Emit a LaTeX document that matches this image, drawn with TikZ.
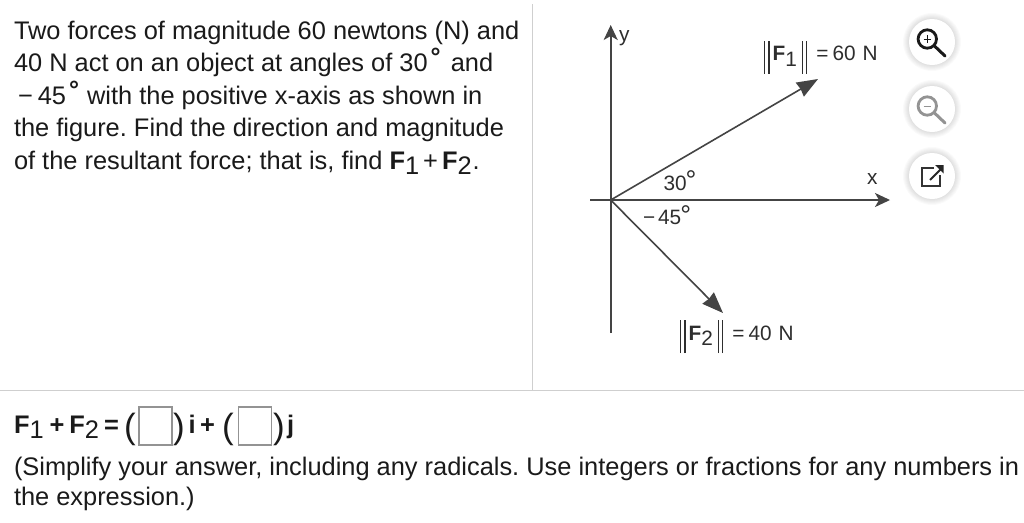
\documentclass[tikz,border=0pt]{standalone}
\usepackage{fontspec}
\setmainfont{Liberation Sans}
\usetikzlibrary{arrows.meta}
\frenchspacing
\definecolor{ink}{HTML}{1A1A1A}
\definecolor{axisc}{HTML}{444444}
\definecolor{lblc}{HTML}{2E2E2E}
\definecolor{sepc}{HTML}{CFCFCF}
\newcommand{\fs}[1]{\fontsize{#1pt}{#1pt}\selectfont}
\newcommand{\dg}{\hspace{3pt}\raisebox{6pt}{\fs{25}\bfseries°}}
\newcommand{\dgs}{\hspace{-1pt}\raisebox{0.5pt}{\fs{27}°}}
\newcommand{\nrm}{\rule[-13pt]{1.3pt}{33pt}\hspace{3pt}\rule[-13pt]{1.3pt}{33pt}}
\newcommand{\sbb}[2]{\textbf{#1}\raisebox{-5.5pt}{#2}}
\tikzset{
  x=1pt,y=-1pt,
  txt/.style={anchor=base west,inner sep=0pt,outer sep=0pt,text=ink,font=\fs{25.4}},
  lbl/.style={anchor=base west,inner sep=0pt,outer sep=0pt,text=lblc,font=\fs{20.8}},
  ax/.style={draw=axisc,line width=1.6pt,-{Stealth[length=15pt,width=14pt,inset=4pt]}},
  vec/.style={draw=axisc,line width=1.6pt,-{Stealth[length=21pt,width=16pt,inset=1pt]}},
  sep/.style={draw=sepc,line width=1pt},
  ansbox/.style={draw=gray!85,line width=1.3pt},
  iconbase/.style={circle,fill=white,minimum size=46pt,inner sep=0pt},
  shadowc/.style={circle,fill=black,fill opacity=.02,inner sep=0pt},
}
\begin{document}
\begin{tikzpicture}
\useasboundingbox (0,0) rectangle (1024,522);
\fill[white] (0,0) rectangle (1024,522);
% separators
\coordinate (sepA) at (532,4); \coordinate (sepB) at (532,390);
\coordinate (sepL) at (0,390); \coordinate (sepR) at (1024,390);
\draw[sep] (sepA) -- (sepB);
\draw[sep] (sepL) -- (sepR);
% question text
\node[txt] (q1) at (14,39) {Two forces of magnitude 60 newtons (N) and};
\node[txt] (q2) at (14,71.5) {40 N act on an object at angles of 30\dg\hspace{3pt} and};
\node[txt] (q3) at (18,104) {\textminus\hspace{5pt}45\dg\hspace{1pt} with the positive x-axis as shown in};
\node[txt] (q4) at (14,136.5) {the figure. Find the direction and magnitude};
\node[txt] (q5) at (14,169) {of the resultant force; that is, find \sbb{F}{1}\hspace{4pt}+\hspace{4pt}\sbb{F}{2}\hspace{1pt}.};
% axes and vectors
\coordinate (O) at (610.7,200);
\coordinate (yT) at (610.7,25); \coordinate (yB) at (610.7,333);
\coordinate (xL) at (590,200); \coordinate (xR) at (890,200);
\coordinate (F1) at (818,79); \coordinate (F2) at (723,313);
\draw[ax] (yB) -- (yT);
\draw[ax] (xL) -- (xR);
\draw[vec] (O) -- (F1);
\draw[vec] (O) -- (F2);
\node[lbl] (ly) at (619,41) {y};
\node[lbl] (lx) at (867,184) {x};
\node[lbl] (a30) at (663.5,190) {30\dgs};
\node[lbl] (a45) at (643,224.5) {\textminus\hspace{3pt}45\dgs};
\node[lbl] (n1) at (764,60.5) {\nrm\hspace{3pt}\sbb{F}{1}\hspace{5pt}\nrm\hspace{9pt}=\hspace{4pt}60 \hspace{1pt}N};
\node[lbl] (n2) at (680,340) {\nrm\hspace{3pt}\sbb{F}{2}\hspace{5pt}\nrm\hspace{9pt}=\hspace{4pt}40 \hspace{1pt}N};
% icon buttons
\foreach \n/\cy in {a/42,b/109,c/176}{
  \foreach \r in {58,56,54,52,50,48}{
    \node[shadowc,minimum size=\r pt] at (932,\cy) {};
  }
  \node[iconbase] (btn\n) at (932,\cy) {};
}
\draw[black!90,line width=2.8pt] (927.3,39) circle (9.2);
\draw[black!90,line width=3pt,line cap=round] (934.5,46) -- (945,56);
\draw[black!90,line width=1pt] (923.5,39) -- (931,39) (927.3,35.3) -- (927.3,42.8);
\draw[gray!85,line width=2.8pt] (927.3,106) circle (9.2);
\draw[gray!85,line width=3pt,line cap=round] (934.5,113) -- (945,123);
\draw[gray!85,line width=1pt] (923.5,106) -- (931,106);
\draw[black!80,line width=1.6pt] (934,168) -- (922,168) -- (922,186) -- (940,186) -- (940,175);
\draw[black!85,line width=1.8pt] (930,180) -- (941,169);
\fill[black!85] (935,165) -- (943.5,165) -- (943.5,173.5) -- cycle;
% answer line
\node[txt] (ans1) at (14,433) {\sbb{F}{1}\hspace{6pt}\textbf{+}\hspace{5pt}\sbb{F}{2}\hspace{5pt}\textbf{=}};
\node[txt,font=\fs{35}] (pa) at (124,438) {(};
\node[ansbox,minimum width=33pt,minimum height=38pt,inner sep=0pt] (b1) at (155.5,426) {};
\node[txt,font=\fs{35}] (pb) at (173,438) {)};
\node[txt] (ans2) at (188.5,433) {\textbf{i}\hspace{4.5pt}\textbf{+}};
\node[txt,font=\fs{35}] (pc) at (222,438) {(};
\node[ansbox,minimum width=33pt,minimum height=38pt,inner sep=0pt] (b2) at (255,426) {};
\node[txt,font=\fs{35}] (pd) at (273,438) {)};
\node[txt] (ans3) at (287,433) {\textbf{j}};
\node[txt] (h1) at (14,475.5) {(Simplify your answer, including any radicals. Use integers or fractions for any numbers in};
\node[txt] (h2) at (14,505.5) {the expression.)};
\end{tikzpicture}
\end{document}
